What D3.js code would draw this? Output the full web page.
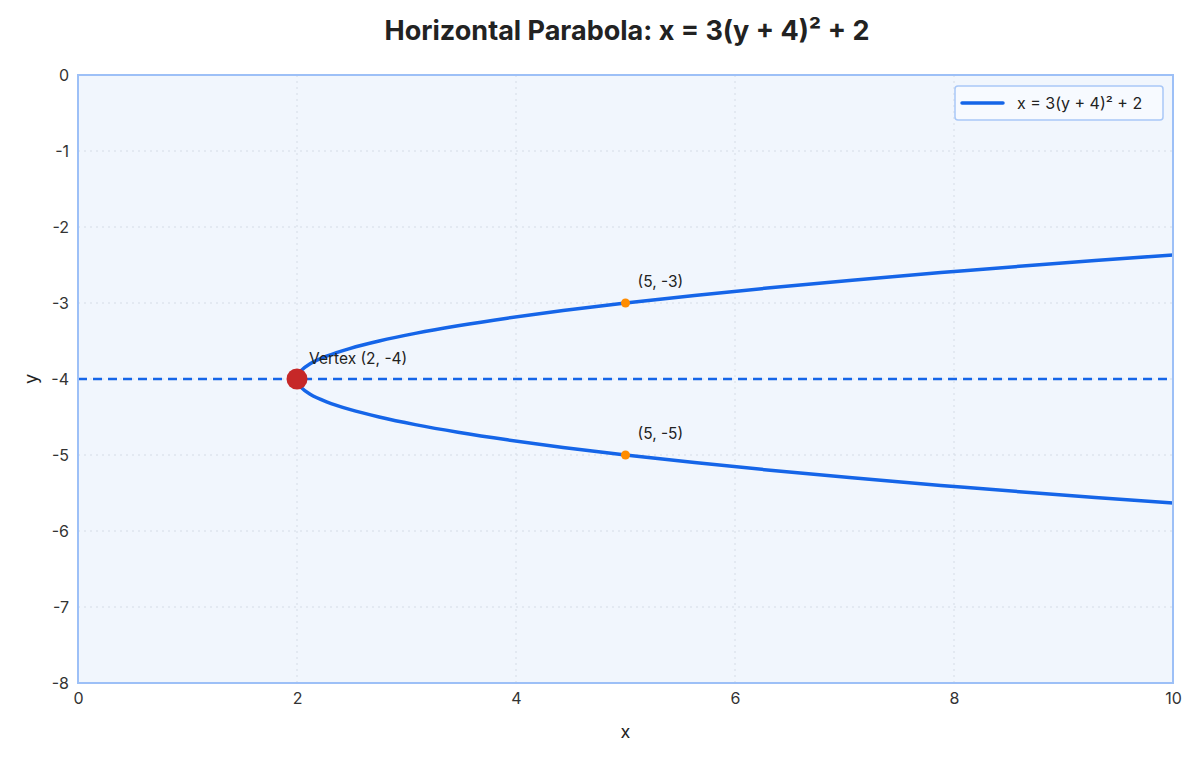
<!DOCTYPE html>
<html>
<head>
<meta charset="utf-8">
<script src="https://cdn.jsdelivr.net/npm/d3@7"></script>
<style>
	body { margin: 0; background: #fff; font-family: Inter, 'Noto Sans', sans-serif; }
</style>
</head>
<body>
<script>
	// y samples along the curve and matching x = 3(y + 4)^2 + 2
	var curveY = [-5.633, -5.5, -5.4, -5.3, -5.2, -5.1, -5.0, -4.9, -4.8, -4.7, -4.6, -4.5, -4.4, -4.3, -4.2, -4.1, -4.05,
		-4.0, -3.95, -3.9, -3.8, -3.7, -3.6, -3.5, -3.4, -3.3, -3.2, -3.1, -3.0, -2.9, -2.8, -2.7, -2.6, -2.5, -2.367];
	var curveX = [10.0, 8.75, 7.88, 7.07, 6.32, 5.63, 5.0, 4.43, 3.92, 3.47, 3.08, 2.75, 2.48, 2.27, 2.12, 2.03, 2.0075,
		2.0, 2.0075, 2.03, 2.12, 2.27, 2.48, 2.75, 3.08, 3.47, 3.92, 4.43, 5.0, 5.63, 6.32, 7.07, 7.88, 8.75, 10.0];
	var vertex = { x: 2, y: -4, label: "Vertex (2, -4)" };
	var samplePoints = [
		{ x: 5, y: -3, label: "(5, -3)" },
		{ x: 5, y: -5, label: "(5, -5)" }
	];
	var axisY = -4;
	var xTicks = [0, 2, 4, 6, 8, 10];
	var yTicks = [0, -1, -2, -3, -4, -5, -6, -7, -8];
	var legendLabel = "x = 3(y + 4)\u00b2 + 2";
	var title = "Horizontal Parabola: x = 3(y + 4)\u00b2 + 2";

	var width = 1200, height = 760;
	var margin = { top: 75, right: 27, bottom: 77, left: 78 };
	var blue = "#1565e8";

	var svg = d3.select("body").append("svg")
		.attr("width", width)
		.attr("height", height);

	var x = d3.scaleLinear().domain([0, 10]).range([margin.left, width - margin.right]);
	var y = d3.scaleLinear().domain([-8, 0]).range([height - margin.bottom, margin.top]);

	// plot background
	svg.append("rect")
		.attr("x", x(0)).attr("y", y(0))
		.attr("width", x(10) - x(0)).attr("height", y(-8) - y(0))
		.attr("fill", "#f1f6fd");

	svg.append("clipPath").attr("id", "clip")
		.append("rect")
		.attr("x", x(0)).attr("y", y(0))
		.attr("width", x(10) - x(0)).attr("height", y(-8) - y(0));

	// grid
	svg.append("g").selectAll("line").data(xTicks).join("line")
		.attr("x1", d => x(d)).attr("x2", d => x(d))
		.attr("y1", y(0)).attr("y2", y(-8))
		.attr("stroke", "#d5dce6").attr("stroke-width", 1).attr("stroke-dasharray", "2,4");
	svg.append("g").selectAll("line").data(yTicks).join("line")
		.attr("y1", d => y(d)).attr("y2", d => y(d))
		.attr("x1", x(0)).attr("x2", x(10))
		.attr("stroke", "#d5dce6").attr("stroke-width", 1).attr("stroke-dasharray", "2,4");

	// axes, labels only (plain hyphen for negatives)
	var xAxis = svg.append("g")
		.attr("transform", `translate(0,${y(-8)})`)
		.call(d3.axisBottom(x).tickValues(xTicks).tickFormat(d => String(d)).tickSize(0).tickPadding(10));
	var yAxis = svg.append("g")
		.attr("transform", `translate(${x(0)},0)`)
		.call(d3.axisLeft(y).tickValues(yTicks).tickFormat(d => String(d)).tickSize(0).tickPadding(9));
	[xAxis, yAxis].forEach(g => {
		g.select(".domain").remove();
		g.selectAll("text").attr("font-family", "Inter, sans-serif").attr("font-size", 16).attr("fill", "#333");
	});

	var plot = svg.append("g").attr("clip-path", "url(#clip)");

	// axis of symmetry
	plot.append("line")
		.attr("x1", x(0)).attr("x2", x(10))
		.attr("y1", y(axisY)).attr("y2", y(axisY))
		.attr("stroke", blue).attr("stroke-width", 2.5).attr("stroke-dasharray", "9,6");

	// parabola
	var line = d3.line()
		.x(d => x(d[0]))
		.y(d => y(d[1]))
		.curve(d3.curveCatmullRom);
	plot.append("path")
		.datum(d3.zip(curveX, curveY))
		.attr("d", line)
		.attr("fill", "none")
		.attr("stroke", blue)
		.attr("stroke-width", 3.5);

	// sample points
	svg.append("g").selectAll("circle").data(samplePoints).join("circle")
		.attr("cx", d => x(d.x)).attr("cy", d => y(d.y)).attr("r", 4.5)
		.attr("fill", "#ff8c00");
	svg.append("g").selectAll("text").data(samplePoints).join("text")
		.attr("x", d => x(d.x) + 12).attr("y", d => y(d.y) - 16)
		.attr("font-size", 15.5).attr("fill", "#222")
		.text(d => d.label);

	// vertex
	svg.append("circle")
		.attr("cx", x(vertex.x)).attr("cy", y(vertex.y)).attr("r", 10.5)
		.attr("fill", "#c62828");
	svg.append("text")
		.attr("x", x(vertex.x) + 12).attr("y", y(vertex.y) - 15)
		.attr("font-size", 15.5).attr("fill", "#222")
		.text(vertex.label);

	// border
	svg.append("rect")
		.attr("x", x(0)).attr("y", y(0))
		.attr("width", x(10) - x(0)).attr("height", y(-8) - y(0))
		.attr("fill", "none").attr("stroke", "#9dc0f7").attr("stroke-width", 2);

	// legend
	var lg = svg.append("g").attr("transform", `translate(955,86)`);
	lg.append("rect")
		.attr("width", 208).attr("height", 34).attr("rx", 3)
		.attr("fill", "#f7faff").attr("stroke", "#a9c8f7").attr("stroke-width", 1.5);
	lg.append("line")
		.attr("x1", 7).attr("x2", 48).attr("y1", 17).attr("y2", 17)
		.attr("stroke", blue).attr("stroke-width", 3.5).attr("stroke-linecap", "round");
	lg.append("text")
		.attr("x", 62).attr("y", 22.5)
		.attr("font-size", 16).attr("fill", "#222")
		.text(legendLabel);

	// titles
	svg.append("text")
		.attr("x", width / 2 + 27).attr("y", 40)
		.attr("text-anchor", "middle")
		.attr("font-size", 27).attr("font-weight", "bold").attr("fill", "#222")
		.text(title);
	svg.append("text")
		.attr("x", (x(0) + x(10)) / 2).attr("y", 738)
		.attr("text-anchor", "middle")
		.attr("font-size", 18).attr("fill", "#222")
		.text("x");
	svg.append("text")
		.attr("transform", `translate(37,${(y(0) + y(-8)) / 2}) rotate(-90)`)
		.attr("text-anchor", "middle")
		.attr("font-size", 18).attr("fill", "#222")
		.text("y");
</script>
</body>
</html>
